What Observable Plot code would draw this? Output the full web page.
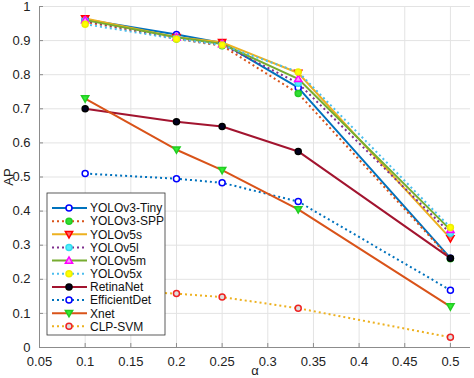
<!DOCTYPE html>
<html><head><meta charset="utf-8">
<script src="https://cdn.jsdelivr.net/npm/d3@7"></script>
<script src="https://cdn.jsdelivr.net/npm/@observablehq/plot@0.6"></script>
<style>body{margin:0;background:#fff}#chart{position:relative;width:474px;height:378px}</style>
</head><body><div id="chart"></div>
<script>
const alphas = [0.1, 0.2, 0.25, 1/3, 0.5];
const seriesNames = ["YOLOv3-Tiny","YOLOv3-SPP","YOLOv5s","YOLOv5l","YOLOv5m","YOLOv5x","RetinaNet","EfficientDet","Xnet","CLP-SVM"];
const yolov3Tiny   = [0.962, 0.918, 0.893, 0.762, 0.262];
const yolov3SPP    = [0.955, 0.905, 0.885, 0.745, 0.260];
const yolov5s      = [0.965, 0.910, 0.895, 0.805, 0.320];
const yolov5l      = [0.958, 0.908, 0.888, 0.775, 0.335];
const yolov5m      = [0.960, 0.910, 0.890, 0.788, 0.345];
const yolov5x      = [0.948, 0.905, 0.887, 0.808, 0.352];
const retinaNet    = [0.700, 0.662, 0.648, 0.575, 0.262];
const efficientDet = [0.510, 0.495, 0.483, 0.428, 0.168];
const xnet         = [0.730, 0.580, 0.520, 0.405, 0.120];
const clpSvm       = [0.170, 0.158, 0.148, 0.115, 0.030];
const xTicks = [0.05,0.1,0.15,0.2,0.25,0.3,0.35,0.4,0.45,0.5];
const yTicks = [0,0.1,0.2,0.3,0.4,0.5,0.6,0.7,0.8,0.9,1];

const allValues = [yolov3Tiny,yolov3SPP,yolov5s,yolov5l,yolov5m,yolov5x,retinaNet,efficientDet,xnet,clpSvm];

const triDown = {draw(ctx, size){const h=Math.sqrt(size*1.3);ctx.moveTo(-h*0.6,-h*0.45);ctx.lineTo(h*0.6,-h*0.45);ctx.lineTo(0,h*0.6);ctx.closePath();}};
const triUp = {draw(ctx, size){const h=Math.sqrt(size*1.3);ctx.moveTo(-h*0.6,h*0.45);ctx.lineTo(h*0.6,h*0.45);ctx.lineTo(0,-h*0.6);ctx.closePath();}};

const styles = [
  {line:"#0072BD", dash:null, sym:"circle", mstroke:"#0000ff", mfill:"#ffffff"},
  {line:"#D95319", dash:"2,3", sym:"circle", mstroke:"#22cc22", mfill:"#33dd33"},
  {line:"#EDB120", dash:null, sym:triDown, mstroke:"#ff0000", mfill:"#ff6a6a"},
  {line:"#7E2F8E", dash:"2,3", sym:"circle", mstroke:"#33ddee", mfill:"#55eeff"},
  {line:"#77AC30", dash:null, sym:triUp, mstroke:"#ff00ff", mfill:"#ff99ff"},
  {line:"#4DBEEE", dash:"2,3", sym:"circle", mstroke:"#eeee00", mfill:"#ffff00"},
  {line:"#A2142F", dash:null, sym:"circle", mstroke:"#000000", mfill:"#000020"},
  {line:"#0072BD", dash:"2,3", sym:"circle", mstroke:"#0000ff", mfill:"#ffffff"},
  {line:"#D95319", dash:null, sym:triDown, mstroke:"#22cc22", mfill:"#33ee33"},
  {line:"#EDB120", dash:"2,3", sym:"circle", mstroke:"#ee2222", mfill:"#dddddd"}
];

const data = [];
seriesNames.forEach((name, i) => allValues[i].forEach((v, j) => data.push({name, i, x: alphas[j], y: v})));

const marks = [
  Plot.gridX(xTicks, {stroke:"#e3e3e3", strokeOpacity:1}),
  Plot.gridY(yTicks, {stroke:"#e3e3e3", strokeOpacity:1}),
  Plot.ruleX([0.05], {stroke:"#8c8c8c"}),
  Plot.ruleY([0], {stroke:"#8c8c8c"}),
  Plot.axisX({ticks: xTicks, tickSize: -4, tickFormat: d => d3.format("")(+d.toFixed(2)), fontSize: 13, label: "α", labelAnchor: "center", labelArrow: "none", labelOffset: 27, stroke:"#8c8c8c", color:"#222"}),
  Plot.axisY({ticks: yTicks, tickSize: -4, tickFormat: d => d3.format("")(+d.toFixed(1)), fontSize: 13, label: "AP", labelAnchor: "center", labelArrow: "none", labelOffset: 36, stroke:"#8c8c8c", color:"#222"})
];
seriesNames.forEach((name, i) => {
  const s = styles[i];
  const d = data.filter(r => r.i === i);
  marks.push(Plot.line(d, {x:"x", y:"y", stroke: s.line, strokeWidth: 2, strokeDasharray: s.dash || undefined, strokeLinecap: s.dash ? "butt" : "round"}));
});
seriesNames.forEach((name, i) => {
  const s = styles[i];
  const d = data.filter(r => r.i === i);
  marks.push(Plot.dot(d, {x:"x", y:"y", symbol: s.sym, r: 3, stroke: s.mstroke, fill: s.mfill, strokeWidth: 1.5}));
});

const chart = Plot.plot({
  width: 474, height: 378,
  marginLeft: 39, marginRight: 4, marginTop: 6, marginBottom: 31,
  x: {domain: [0.05, 0.522]},
  y: {domain: [0, 1]},
  style: {fontFamily: "'Liberation Sans', Arial, sans-serif", fontSize: "13px", background: "#fff", overflow: "visible"},
  marks
});
document.getElementById("chart").appendChild(chart);

// legend inside plot area
const svg = d3.select(chart);
const lg = svg.append("g").attr("transform", "translate(47,193)").attr("text-anchor","start");
lg.append("rect").attr("x",0).attr("y",0).attr("width",118).attr("height",142).attr("fill","#fff").attr("stroke","#333").attr("stroke-width",0.8);
seriesNames.forEach((name, i) => {
  const s = styles[i];
  const yy = 15 + i * 13.15;
  lg.append("line").attr("x1",5).attr("x2",40).attr("y1",yy).attr("y2",yy).attr("stroke",s.line).attr("stroke-width",2).attr("stroke-dasharray", s.dash);
  const sym = typeof s.sym === "string" ? d3.symbolCircle : s.sym;
  lg.append("path").attr("transform",`translate(22,${yy})`).attr("d", d3.symbol(sym, Math.PI*3*3)()).attr("fill",s.mfill).attr("stroke",s.mstroke).attr("stroke-width",1.5);
  lg.append("text").attr("x",43).attr("y",yy).attr("dy","0.36em").attr("font-size",12).attr("fill","#111").attr("text-anchor","start").attr("font-family","'Liberation Sans', Arial, sans-serif").text(name);
});
</script></body></html>
